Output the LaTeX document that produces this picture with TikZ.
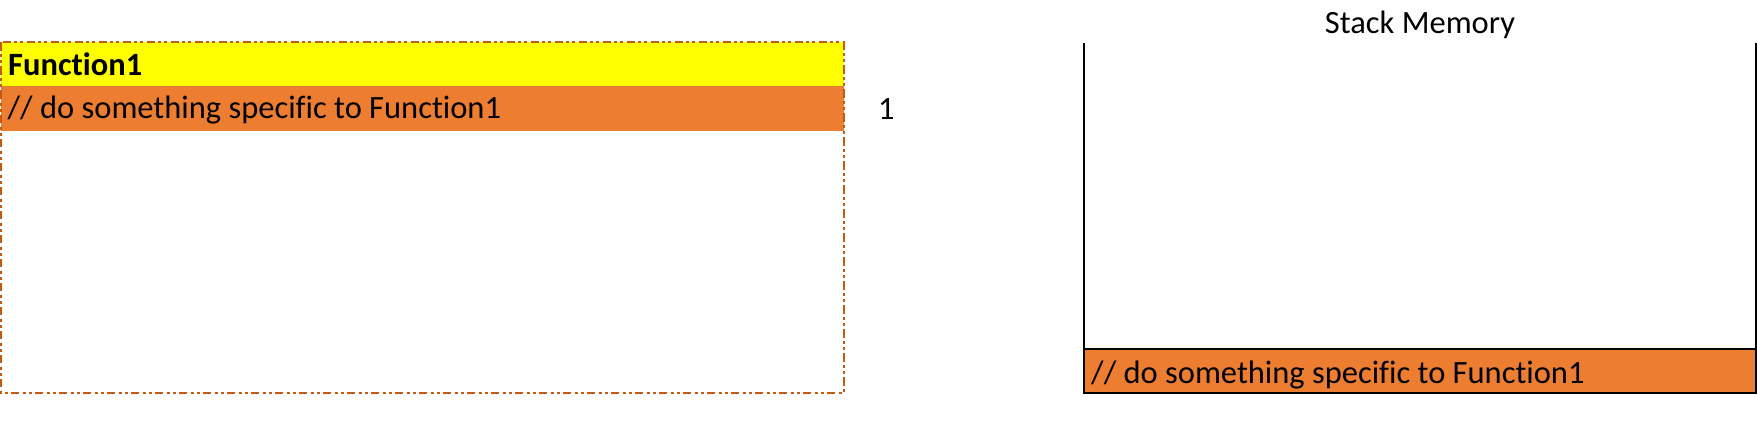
\documentclass[tikz,border=0pt]{standalone}
\usepackage{fontspec}
\setmainfont{Carlito}[Ligatures={NoCommon,NoContextual}]
\definecolor{hdryellow}{HTML}{FFFF00}
\definecolor{bodyorange}{HTML}{ED7D31}
\definecolor{frameorange}{HTML}{C55A11}
\begin{document}
\begin{tikzpicture}[x=1pt,y=-1pt,
  txt/.style={anchor=base west,inner sep=0pt,font=\fontsize{32.5}{39}\selectfont},
  frame/.style={draw=frameorange,line width=2pt,
    dash pattern=on 8.5pt off 3.5pt on 3pt off 3pt on 3pt off 3pt},
  stackline/.style={draw=black,line width=2pt}]
\useasboundingbox (0,0) rectangle (1757,436);
% left function box
\fill[hdryellow] (1,42.5) rectangle (844,86);
\fill[bodyorange] (1,86) rectangle (844,130.7);
\draw[frame] (1,42.5) rectangle (844,392.7);
\node[txt,font=\fontsize{32.5}{39}\selectfont\bfseries] (fname) at (8,75.7) {Function1};
\node[txt] (fbody) at (7.5,118.5) {// do something specific to Function1};
\node[txt] (num) at (878,119.3) {1};
% stack memory
\node[txt,anchor=base] (stitle) at (1420,33.3) {Stack Memory};
\draw[stackline] (1084.3,43) -- (1084.3,392.5);
\draw[stackline] (1755.8,43) -- (1755.8,392.5);
\filldraw[fill=bodyorange,draw=black,line width=2pt] (1084.3,349) rectangle (1755.8,392.5);
\node[txt] (sbody) at (1091,383.3) {// do something specific to Function1};
\end{tikzpicture}
\end{document}
